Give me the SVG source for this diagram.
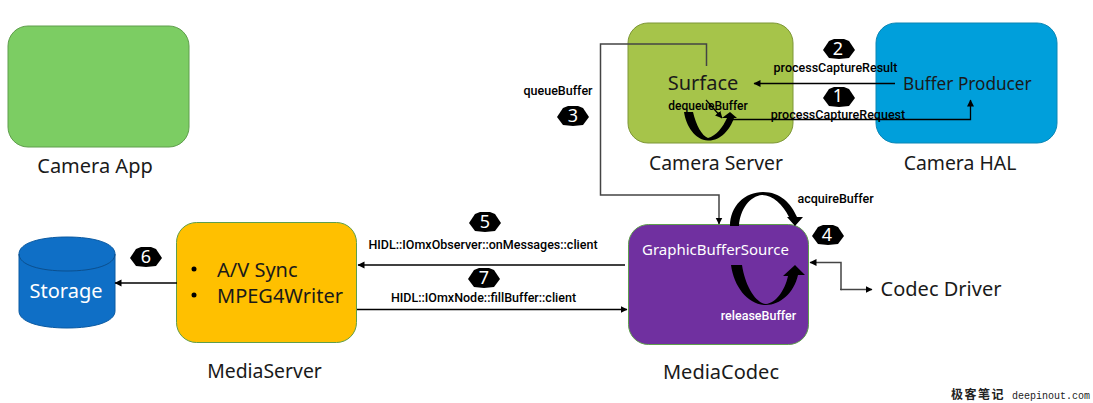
<svg xmlns="http://www.w3.org/2000/svg" width="1093" height="403" viewBox="0 0 1093 403">
<style>
text{font-family:"Noto Sans","Open Sans","Noto Sans CJK SC",sans-serif;fill:#1a1a1a}
.t{font-size:20px;text-anchor:middle}
.s{font-size:19.4px}
.in{font-size:17.2px}
.li{font-size:20px}
.w{fill:#fff}
.l{font-family:Roboto,"Liberation Sans",sans-serif;font-size:12.500px;font-weight:500;text-anchor:middle;fill:#000}
.n{font-size:18px;text-anchor:middle;fill:#fff}
.c{fill:none;stroke:#000;stroke-width:1.3}
.g{fill:none;stroke:#444;stroke-width:1.5}
.k{fill:#000}
</style>
<defs>
<marker id="a" markerWidth="8" markerHeight="8" refX="6.5" refY="3.5" orient="auto" markerUnits="userSpaceOnUse"><path d="M0 0L7 3.5L0 7Z" fill="#000"/></marker>
<polygon id="h" points="-16,1 -10,-8 -5,-10 5,-10 10,-8 16,1 10,9 0,10 -10,9"/>
</defs>
<rect width="1093" height="403" fill="#fff"/>
<g id="camera-app"><rect x="8" y="26" width="181" height="121" rx="20" fill="#7ccd63" stroke="#5f9e4c"/><text class="t" x="95" y="173">Camera App</text></g>
<g id="camera-server"><rect x="628" y="23" width="165" height="120" rx="20" fill="#a6c44a" stroke="#7d9636"/><text class="t" x="703" y="90">Surface</text><text class="t s" x="716" y="170">Camera Server</text></g>
<g id="camera-hal"><rect x="876" y="23" width="181" height="120" rx="20" fill="#009fdb" stroke="#0a86b5"/><text class="in" x="903" y="90">Buffer Producer</text><text class="t s" x="960" y="170">Camera HAL</text></g>
<g id="storage"><path d="M19 254C19 243 40 237 67 237S115 243 115 254V311C115 322 94 328 67 328S19 322 19 311Z" fill="#0f6fc6" stroke="#0b5aa2"/><path d="M19 254C19 265 40 271 67 271S115 265 115 254" fill="none" stroke="#0b4f8e"/><text class="t w" x="66" y="298">Storage</text></g>
<g id="media-server"><rect x="176.500" y="222.500" width="180" height="120" rx="20" fill="#ffc000" stroke="#5f9e4c"/><circle cx="194" cy="269" r="2.500" fill="#000"/><circle cx="194" cy="295" r="2.500" fill="#000"/><text class="li" x="217" y="277">A/V Sync</text><text class="li" x="217" y="303">MPEG4Writer</text><text class="t s" x="264.500" y="378">MediaServer</text></g>
<g id="media-codec"><rect x="628.500" y="224.500" width="180" height="120" rx="20" fill="#7030a0" stroke="#5f9e4c"/><text x="642" y="255" font-size="15" class="w">GraphicBufferSource</text><text class="t" x="721" y="379">MediaCodec</text></g>
<g id="codec-driver"><text class="t" x="941" y="296">Codec Driver</text></g>
<g id="connectors">
<path class="g" d="M706.500 66V44H600.500V195H719V224" marker-end="url(#a)"/>
<path class="c" d="M895 83.500H754" marker-end="url(#a)"/>
<path class="c" d="M730 119.500H970.500V100" marker-end="url(#a)"/>
<path class="c" d="M706 100L722 118" marker-end="url(#a)"/>
<path class="c" d="M625 265H358" marker-end="url(#a)"/>
<path class="c" d="M357 309.500H627" marker-end="url(#a)"/>
<path class="c" d="M177 283H115" marker-end="url(#a)"/>
<path class="g" d="M840 289.500H841V262.500H810" marker-end="url(#a)"/>
<path class="g" d="M841 289.500H872" marker-end="url(#a)"/>
<path class="k" d="M684 112H693C696 125 702 136 708 138C716 136 723 127 727 118H722L730 112L737 118H734C730 130 720 141 708 140.500C695 140 686 126 684 112Z"/>
<path class="k" d="M730 226C730 206 745 192 763 192C780 192 791 203 797 217H803L795 226L787 217H789C783 205 773 195 762 195C750 196 740 209 739 226Z"/>
<path class="k" d="M731 265H742C745 285 755 303 766 304C776 303 785 290 788 276H783L795 265L805 275H798C794 293 780 305 766 305C748 305 734 287 731 265Z"/>
</g>
<g id="labels">
<text class="l" x="835.500" y="72">processCaptureResult</text>
<text class="l" x="838" y="118.500">processCaptureRequest</text>
<text class="l" x="708" y="110" style="font-size:12px">dequeueBuffer</text>
<text class="l" x="558" y="95">queueBuffer</text>
<text class="l" x="835.500" y="203">acquireBuffer</text>
<text class="l" x="758.500" y="320" style="fill:#fff">releaseBuffer</text>
<text class="l" x="483" y="249">HIDL::IOmxObserver::onMessages::client</text>
<text class="l" x="483.500" y="302">HIDL::IOmxNode::fillBuffer::client</text>
</g>
<g id="badges">
<use href="#h" x="839" y="49"/><text class="n" x="838" y="55">2</text>
<use href="#h" x="839" y="97"/><text class="n" x="838" y="101.500">1</text>
<use href="#h" x="573" y="116"/><text class="n" x="573" y="122">3</text>
<use href="#h" x="828" y="235"/><text class="n" x="827" y="241">4</text>
<use href="#h" x="485" y="222"/><text class="n" x="485" y="228">5</text>
<use href="#h" x="146" y="257"/><text class="n" x="146" y="263">6</text>
<use href="#h" x="484" y="278"/><text class="n" x="484" y="284">7</text>
</g>
<g id="watermark"><text x="951" y="399" font-size="12" style="font-family:'Noto Sans CJK SC',sans-serif;font-weight:700;fill:#222" letter-spacing="1.500">极客笔记</text><text x="1012" y="399" font-size="10" style="font-family:'Liberation Mono',monospace;fill:#222">deepinout.com</text></g>
</svg>
